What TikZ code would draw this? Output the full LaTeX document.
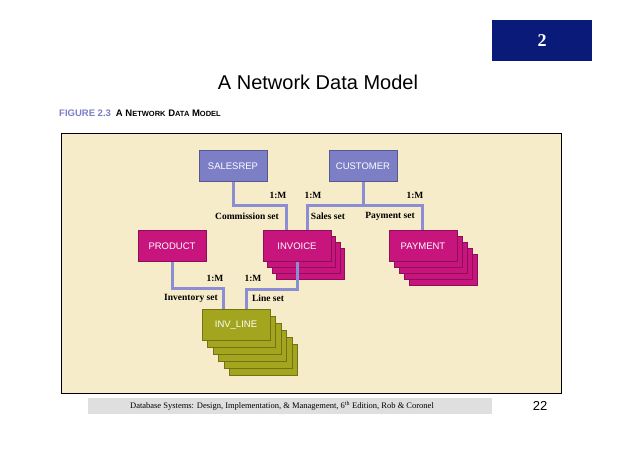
\documentclass[tikz,border=0pt]{standalone}
\usepackage{fontspec}
\setmainfont{Liberation Serif}
\newfontfamily\sansf{Liberation Sans}
\begin{document}
\begin{tikzpicture}[x=1pt,y=-1pt,
  rec/.style={minimum width=68pt,minimum height=31pt,inner sep=0pt,text=white,font=\sansf\fontsize{9.5}{10}\selectfont},
  purp/.style={rec,fill=purpbox,draw=purpbox!70!black},
  mag/.style={rec,fill=magbox,draw=magbox!70!black},
  oli/.style={rec,fill=olibox,draw=olibox!70!black},
  conn/.style={draw=linecol,line width=3pt},
  lbl/.style={font=\bfseries\fontsize{9.5}{10}\selectfont,inner sep=1pt}]
\definecolor{purpbox}{HTML}{7C7EC6}
\definecolor{magbox}{HTML}{C8157E}
\definecolor{olibox}{HTML}{A3A51E}
\definecolor{linecol}{HTML}{8C8ED4}
\definecolor{beige}{HTML}{F6ECC9}
\definecolor{navy}{HTML}{0A1A78}
\useasboundingbox (0,0) rectangle (638,451);
\fill[white] (0,0) rectangle (638,451);
\fill[navy] (492,20) rectangle (592,61);
\node[text=white,font=\bfseries\fontsize{18}{20}\selectfont] (num) at (542,41) {2};
\node[font=\sansf\fontsize{20}{22}\selectfont] (title) at (318,82) {A Network Data Model};
\node[anchor=west,inner sep=0pt,font=\sansf\bfseries\fontsize{9.5}{10}\selectfont] (fig) at (59,113)
  {\textcolor{purpbox}{FIGURE 2.3}\hspace{5pt}A N{\fontsize{7.5}{8}\selectfont ETWORK} D{\fontsize{7.5}{8}\selectfont ATA} M{\fontsize{7.5}{8}\selectfont ODEL}};
\fill[beige,draw=black,line width=0.6pt] (61,133) rectangle (561,393);
\coordinate (s1) at (233,205); \coordinate (s2) at (286,205);
\coordinate (c1) at (363,205); \coordinate (cl) at (307,205); \coordinate (cr) at (422,205);
\coordinate (p1) at (172,288); \coordinate (p2) at (223,288);
\coordinate (i1) at (297,289); \coordinate (i2) at (246,289);
\foreach \k in {3,2,1} \node[mag] at (297+4.5*\k,246+6*\k) {};
\foreach \k in {4,3,2,1} \node[mag] at (423+5*\k,246+6*\k) {};
\foreach \k in {5,4,3,2,1} \node[oli] at (236+5.5*\k,325+7*\k) {};
\node[purp] (salesrep) at (233,166) {SALESREP};
\node[purp] (customer) at (363,166) {CUSTOMER};
\node[mag] (product) at (172,246) {PRODUCT};
\node[mag] (invoice) at (297,246) {INVOICE};
\node[mag] (payment) at (423,246) {PAYMENT};
\node[oli] (invline) at (236,325) {INV\_LINE};
\draw[conn] (salesrep.south) -- (s1) -- (s2) -- (s2 |- invoice.north);
\draw[conn] (customer.south) -- (c1);
\draw[conn] (cl |- invoice.north) -- (cl) -- (cr) -- (cr |- payment.north);
\draw[conn] (product.south) -- (p1) -- (p2) -- (p2 |- invline.north);
\draw[conn] (invoice.south) -- (i1) -- (i2) -- (i2 |- invline.north);
\node[lbl] (l1) at (278,195) {1:M};
\node[lbl] (l2) at (313,195) {1:M};
\node[lbl] (l3) at (415,195) {1:M};
\node[lbl] (l4) at (215,278) {1:M};
\node[lbl] (l5) at (253,278) {1:M};
\node[lbl] (t1) at (247,216) {Commission set};
\node[lbl] (t2) at (328,216) {Sales set};
\node[lbl] (t3) at (390,216) {Payment set};
\node[lbl] (t4) at (191,298) {Inventory set};
\node[lbl] (t5) at (268,298) {Line set};
\fill[gray!25] (88,398) rectangle (492,414);
\node[font=\fontsize{8.5}{9}\selectfont] (foot) at (282,406) {Database Systems: Design, Implementation, \& Management, 6\textsuperscript{th} Edition, Rob \& Coronel};
\node[font=\sansf\fontsize{13}{14}\selectfont] (pg) at (540,406) {22};
\end{tikzpicture}
\end{document}
